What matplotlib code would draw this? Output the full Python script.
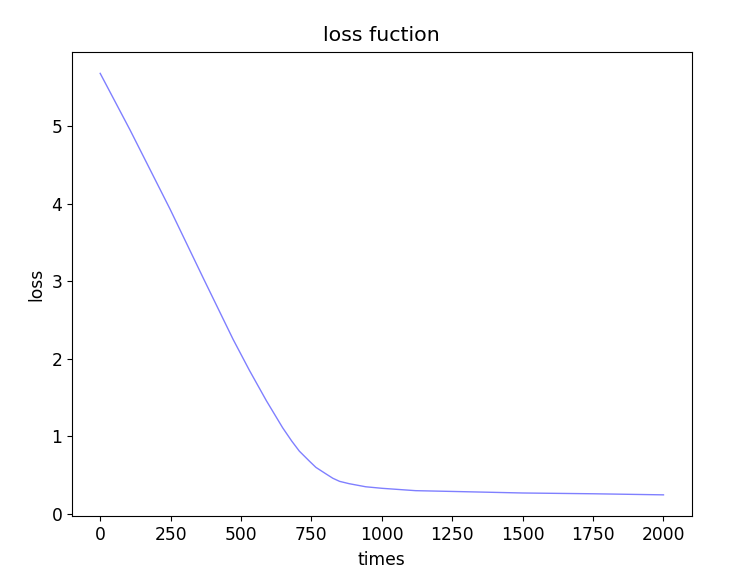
import matplotlib
matplotlib.use("Agg")
import matplotlib.pyplot as plt

# values
times = [0, 106, 248, 366, 472, 530, 590, 648, 680, 707, 743, 766, 800,
         826, 850, 884, 943, 1002, 1061, 1120, 1250, 1500, 1750, 2000]
loss = [5.68, 4.95, 3.93, 3.04, 2.25, 1.85, 1.46, 1.11, 0.94, 0.81, 0.68,
        0.60, 0.52, 0.46, 0.42, 0.39, 0.35, 0.33, 0.315, 0.30, 0.29, 0.27,
        0.26, 0.246]

plt.rcParams['font.size'] = 12.3

fig = plt.figure(figsize=(7.35, 5.81), dpi=100)
ax = fig.add_subplot(111)
fig.subplots_adjust(left=0.098, right=0.941, top=0.910, bottom=0.112)

ax.plot(times, loss, color='b', alpha=0.5, linewidth=1)
ax.set_title("loss fuction", pad=8)
ax.set_xlabel("times", labelpad=5.5)
ax.set_ylabel("loss")
ax.set_xticks([0, 250, 500, 750, 1000, 1250, 1500, 1750, 2000])

plt.savefig("out.png")
plt.close()
